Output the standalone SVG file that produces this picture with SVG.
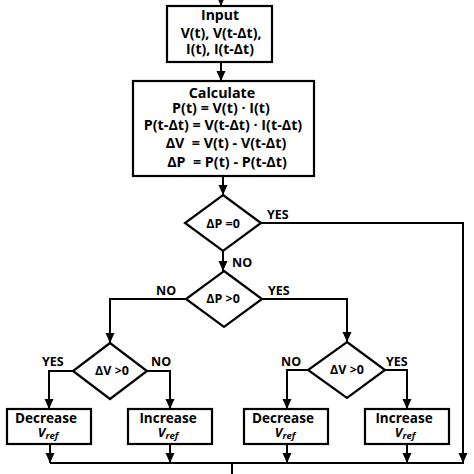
<svg xmlns="http://www.w3.org/2000/svg" width="474" height="474" viewBox="0 0 474 474">
<defs>
<marker id="ah" markerUnits="userSpaceOnUse" markerWidth="10" markerHeight="10" viewBox="0 0 10 10" refX="10" refY="5" orient="auto">
<path d="M0,0.5 L10,5 L0,9.5 Z" fill="#000"/>
</marker>
<style>
.box{fill:#fff;stroke:#000;stroke-width:2.2}
.ln{fill:none;stroke:#000;stroke-width:2}
.t{font-family:"Open Sans","Liberation Sans",sans-serif;font-weight:bold;fill:#000;text-anchor:middle}
.m{font-size:14px}
.c{font-size:14.3px}
.d{font-size:12.5px}
.l{font-size:12.5px;text-anchor:start}
.b{font-size:13.5px}
.v{font-style:italic;font-size:13px}
.s{font-size:9.5px}
</style>
</defs>
<rect width="474" height="474" fill="#fff"/>
<g id="connectors">
<path class="ln" d="M221,0 V6" marker-end="url(#ah)"/>
<path class="ln" d="M221,62 V81" marker-end="url(#ah)"/>
<path class="ln" d="M223,176 V195" marker-end="url(#ah)"/>
<path class="ln" d="M261,223 H463 V463" marker-end="url(#ah)"/>
<path class="ln" d="M223,251 V271" marker-end="url(#ah)"/>
<path class="ln" d="M186,299 H110 V343" marker-end="url(#ah)"/>
<path class="ln" d="M262,299 H347 V342" marker-end="url(#ah)"/>
<path class="ln" d="M73,371 H49 V409" marker-end="url(#ah)"/>
<path class="ln" d="M147,371 H170 V409" marker-end="url(#ah)"/>
<path class="ln" d="M308,370 H287 V409" marker-end="url(#ah)"/>
<path class="ln" d="M385,370 H407 V409" marker-end="url(#ah)"/>
<path class="ln" d="M50,444 V463" marker-end="url(#ah)"/>
<path class="ln" d="M170,444 V463" marker-end="url(#ah)"/>
<path class="ln" d="M287,444 V463" marker-end="url(#ah)"/>
<path class="ln" d="M407,444 V463" marker-end="url(#ah)"/>
<path class="ln" d="M50,463 H464"/>
<path class="ln" d="M232,463 V474"/>
<text class="t l" x="267" y="219">YES</text>
<text class="t l" x="232" y="267">NO</text>
<text class="t l" x="156" y="295">NO</text>
<text class="t l" x="268" y="295">YES</text>
<text class="t l" x="42" y="366">YES</text>
<text class="t l" x="151" y="366">NO</text>
<text class="t l" x="281" y="366">NO</text>
<text class="t l" x="386" y="366">YES</text>
</g>
<g id="input">
<rect class="box" x="167" y="6" width="105" height="56"/>
<text class="t m" x="220" y="20">Input</text>
<text class="t m" x="221" y="38">V(t), V(t-Δt),</text>
<text class="t m" x="220" y="54">I(t), I(t-Δt)</text>
</g>
<g id="calculate">
<rect class="box" x="133" y="81" width="181" height="95"/>
<text class="t c" x="222" y="98">Calculate</text>
<text class="t c" x="221" y="113">P(t) = V(t) · I(t)</text>
<text class="t c" x="223" y="130">P(t-Δt) = V(t-Δt) · I(t-Δt)</text>
<text class="t c" x="226" y="148" xml:space="preserve">ΔV  = V(t) - V(t-Δt)</text>
<text class="t c" x="227" y="167" xml:space="preserve">ΔP  = P(t) - P(t-Δt)</text>
</g>
<g id="dp0">
<polygon class="box" points="223,195 261,223 223,251 185,223"/>
<text class="t d" x="223" y="228">ΔP =0</text>
</g>
<g id="dpgt0">
<polygon class="box" points="224,271 262,299 224,327 186,299"/>
<text class="t d" x="223" y="303">ΔP &gt;0</text>
</g>
<g id="dvl">
<polygon class="box" points="110,343 147,371 110,399 73,371"/>
<text class="t d" x="112" y="375">ΔV &gt;0</text>
</g>
<g id="dvr">
<polygon class="box" points="347,342 385,370 347,398 308,370"/>
<text class="t d" x="347" y="374">ΔV &gt;0</text>
</g>
<g id="decL">
<rect class="box" x="7" y="409" width="84" height="35"/>
<text class="t b" x="46" y="423">Decrease</text>
<text class="t v" x="48" y="437">V<tspan class="s" dy="2">ref</tspan></text>
</g>
<g id="incL">
<rect class="box" x="128" y="409" width="84" height="35"/>
<text class="t b" x="168" y="423">Increase</text>
<text class="t v" x="168" y="437">V<tspan class="s" dy="2">ref</tspan></text>
</g>
<g id="decR">
<rect class="box" x="244" y="409" width="84" height="35"/>
<text class="t b" x="283" y="423">Decrease</text>
<text class="t v" x="285" y="437">V<tspan class="s" dy="2">ref</tspan></text>
</g>
<g id="incR">
<rect class="box" x="365" y="409" width="84" height="35"/>
<text class="t b" x="404" y="423">Increase</text>
<text class="t v" x="405" y="437">V<tspan class="s" dy="2">ref</tspan></text>
</g>
</svg>
